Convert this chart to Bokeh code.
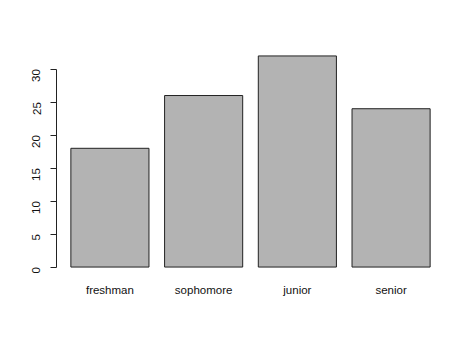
import math
from bokeh.plotting import figure
from bokeh.models import Range1d, LinearAxis, FixedTicker
from bokeh.embed import file_html
from bokeh.resources import INLINE

categories = ["freshman", "sophomore", "junior", "senior"]
counts = [18, 26, 32, 24]
y_ticks = [0, 5, 10, 15, 20, 25, 30]

# R barplot positions: width 1, space 0.2
centers = [0.7 + 1.2 * i for i in range(len(categories))]
xlo, xhi = 0.2, 0.2 + 1.2 * len(categories) - 0.2
pad = 0.04 * (xhi - xlo)
ymax = max(counts)

p = figure(width=474, height=338, output_backend="svg", toolbar_location=None,
           x_range=Range1d(xlo - pad, xhi + pad),
           y_range=Range1d(-0.04 * ymax, ymax * 1.04),
           x_axis_location=None, y_axis_location=None,
           min_border_left=56, min_border_right=30, min_border_top=47, min_border_bottom=63)
p.grid.visible = False
p.outline_line_color = None
p.background_fill_color = "white"
p.border_fill_color = "white"

p.vbar(x=centers, top=counts, bottom=0, width=1.0,
       fill_color="#B3B3B3", line_color="#222222", line_width=1)

font = "Liberation Sans"

yax = LinearAxis(bounds=(0, 30), ticker=FixedTicker(ticks=y_ticks, minor_ticks=[]))
yax.major_label_orientation = math.pi / 2
yax.major_tick_out = 6
yax.major_tick_in = 0
yax.minor_tick_out = 0
yax.axis_line_color = "#222222"
yax.major_tick_line_color = "#222222"
yax.major_label_text_font = font
yax.major_label_text_font_size = "11.5px"
yax.major_label_text_color = "#111111"
yax.major_label_standoff = 14
p.add_layout(yax, "left")

xax = LinearAxis(ticker=FixedTicker(ticks=centers, minor_ticks=[]))
xax.major_label_overrides = {c: lab for c, lab in zip(centers, categories)}
xax.axis_line_color = None
xax.major_tick_line_color = None
xax.minor_tick_line_color = None
xax.major_tick_out = 0
xax.major_tick_in = 0
xax.major_label_text_font = font
xax.major_label_text_font_size = "11.5px"
xax.major_label_text_color = "#111111"
xax.major_label_standoff = 8
p.add_layout(xax, "below")

open("out.html", "w").write(file_html(p, INLINE))
